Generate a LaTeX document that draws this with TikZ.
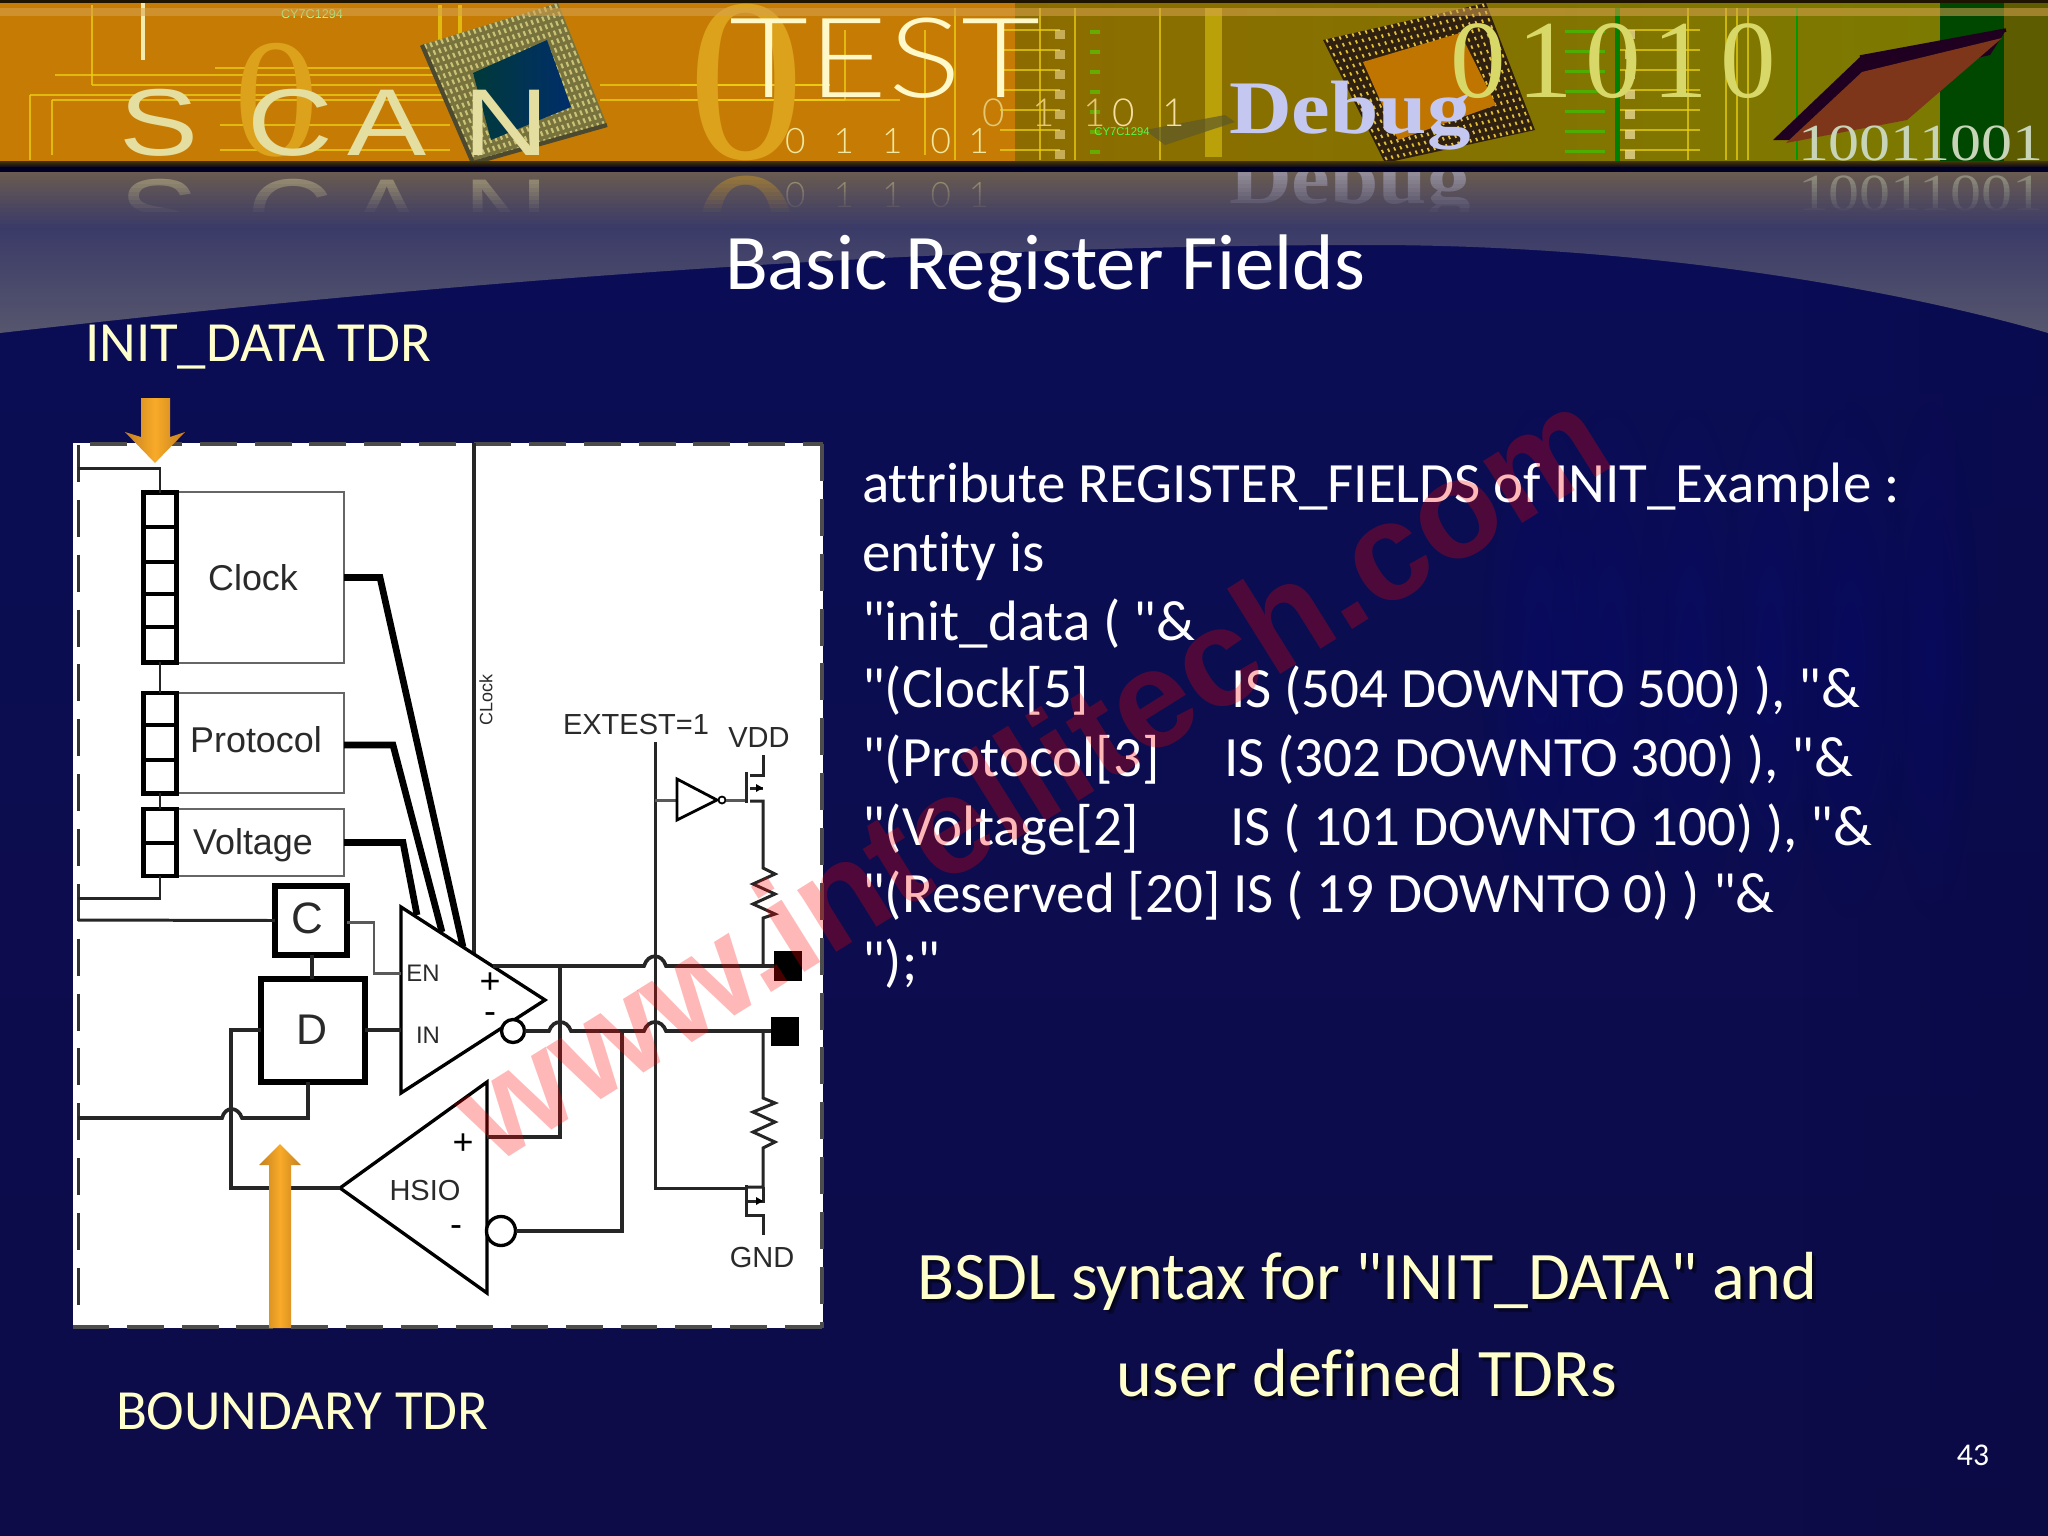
\documentclass[tikz,border=0pt]{standalone}
\usepackage{fontspec}
\usetikzlibrary{calc,fadings}
\newfontfamily\cf[Ligatures=NoCommon]{Carlito}
\newfontfamily\arialf{Liberation Sans}
\newfontfamily\timesf{Liberation Serif}
\newfontfamily\thinf{Lato Light}
\definecolor{navy}{HTML}{0A0D56}
\definecolor{navyb}{HTML}{0D0C48}
\definecolor{paleyel}{HTML}{FFFFCC}
\definecolor{gold}{HTML}{C67C04}
\definecolor{ink}{HTML}{2A2A2A}
\definecolor{bandtop}{HTML}{6A5C50}
\definecolor{bandbot}{HTML}{3A3A68}
\definecolor{grayend}{HTML}{56566E}
\definecolor{olivea}{HTML}{8C6C00}
\definecolor{oliveb}{HTML}{7C7A00}
\definecolor{arrowmid}{HTML}{F8AA28}
\definecolor{arrowedge}{HTML}{C4801E}
\definecolor{zerocol}{HTML}{DDA21C}
\definecolor{scancol}{HTML}{E4DEA0}
\definecolor{testcol}{HTML}{FFF8C8}
\definecolor{rowcol}{HTML}{F0E8A0}
\definecolor{debugcol}{HTML}{C4C8F0}
\definecolor{digcol}{HTML}{D8D868}
\definecolor{bincol}{HTML}{C8D4B8}
\newcommand{\fsz}[1]{\fontsize{#1}{#1}\selectfont}
\tikzfading[name=softblob,inner color=transparent!0,outer color=transparent!100]
\tikzset{
  x=0.01cm,y=-0.01cm,
  bt/.style={inner sep=0pt,outer sep=0pt},
  wire/.style={draw=black!85,line width=0.85pt,line join=miter},
  graywire/.style={draw=black!65,line width=0.85pt,line join=miter},
  thickwire/.style={draw=black,line width=1.9pt,line join=miter},
  fieldbox/.style={draw=black!60,line width=0.6pt,fill=white,inner sep=0pt,outer sep=0pt},
  regbox/.style={draw=black,line width=1.4pt,fill=white,inner sep=0pt,outer sep=0pt,minimum width=0.33cm},
  logicbox/.style={draw=black,line width=1.5pt,fill=white,inner sep=0pt,outer sep=0pt},
  amp/.style={draw=black,line width=0.95pt,fill=white,line join=miter},
  bubble/.style={circle,draw=black,line width=0.95pt,fill=white,inner sep=0pt,outer sep=0pt},
  padnode/.style={fill=black,inner sep=0pt,outer sep=0pt},
  lab/.style={inner sep=0pt,outer sep=0pt,text=ink,font=\arialf},
  slidetext/.style={inner sep=0pt,outer sep=0pt,anchor=base west,text=white,font=\cf\fsz{16.2}},
  headtext/.style={inner sep=0pt,outer sep=0pt,anchor=base west,text=paleyel,font=\cf\fsz{16.15}},
  bsdl/.style={inner sep=0pt,anchor=base,text=paleyel,font=\cf\fsz{19.35}},
  bsdlshadow/.style={inner sep=0pt,anchor=base,text=black,text opacity=.35,font=\cf\fsz{19.35}},
  trace/.style={draw=yellow!70!gold,line width=0.5pt,opacity=.7},
  greentrace/.style={draw=green!60!black,line width=0.6pt},
  orangearrow/.style={left color=arrowedge,right color=arrowedge,middle color=arrowmid,draw=none},
}
\begin{document}
\begin{tikzpicture}
\useasboundingbox (0,0) rectangle (2048,1536);
% --- slide ground
\shade[top color=navy,bottom color=navyb] (0,165) rectangle (2048,1536);
\foreach \cx/\wd in {1540/60,1610/60,1690/55,1770/50,1850/60,1930/50}
  \fill[blue!60!black,opacity=.2,path fading=softblob] ({\cx-\wd},400) rectangle ({\cx+\wd},920);
\fill[black!80!blue,opacity=.16,path fading=west] (1800,240) rectangle (2048,1536);
\shade[top color=bandbot,bottom color=grayend]
  (0,225) -- (2048,225) -- (2048,333) .. controls (1900,290) and (1650,245) .. (1370,245)
  .. controls (1000,245) and (550,270) .. (0,333) -- cycle;
\shade[top color=bandtop,bottom color=bandbot] (0,172) rectangle (2048,228);
% --- banner
\fill[gold] (0,0) rectangle (1015,165);
\shade[left color=olivea,right color=oliveb] (1015,0) rectangle (1940,165);
\fill[green!28!black] (1940,0) rectangle (2004,165);
\fill[oliveb!75!black] (2004,0) rectangle (2048,165);
% traces
\foreach \ya/\xa/\xb in {68/215/460,75/55/460,85/92/470,95/30/450,100/52/450,125/220/450,150/220/450,85/600/830,100/600/900,85/680/830,100/680/845} \draw[trace] (\xa,\ya) -- (\xb,\ya);
\draw[trace] (92,5) -- (92,85);
\draw[trace] (30,95) -- (30,160);
\draw[trace] (52,100) -- (52,155);
\draw[trace,line width=1pt] (440,5) -- (440,70) (460,5) -- (460,70);
\draw[trace] (845,30) -- (845,100) (925,30) -- (925,155);
\draw[draw=paleyel,line width=1.4pt,opacity=.85] (143,3) -- (143,60);
\fill[yellow!70!gold,opacity=.5] (1205,8) rectangle (1222,157);
\foreach \yy in {30,50,70,90,110,130,150} {
  \draw[trace] (1000,\yy) -- (1060,\yy);
  \draw[trace] (1620,\yy) -- (1700,\yy);
  \fill[paleyel!70!gold,opacity=.6] (1055,\yy) rectangle (1065,{\yy+9});
  \fill[paleyel!80!gold,opacity=.7] (1625,\yy) rectangle (1635,{\yy+9});
  \fill[green!55!gold,opacity=.7] (1090,\yy) rectangle (1100,{\yy+4});
  \fill[green!55!olive,opacity=.7] (1565,\yy) rectangle (1605,{\yy+3});
}
\foreach \xx in {955,1040,1075,1160,1688,1726,1737,1748} \draw[trace] (\xx,8) -- (\xx,160);
\fill[green!50!black] (1615,8) rectangle (1620,163);
\draw[greentrace] (1797,8) -- (1797,160);
\fill[black!45!olive,opacity=.7] (1145,130) -- (1225,115) -- (1235,122) -- (1165,145) -- cycle;
% chip 1
\coordinate (ca) at (422,45); \coordinate (cb) at (558,3); \coordinate (cc) at (607,125); \coordinate (cd) at (473,163);
\fill[black!30!olive!70!gray] (ca) -- (cb) -- (cc) -- (cd) -- cycle;
\begin{scope}
  \clip (ca) -- (cb) -- (cc) -- (cd) -- cycle;
  \foreach \t in {0.02,0.06,...,1.0} {
    \draw[yellow!45!gray!90!white,line width=.6pt,dash pattern=on 1.4pt off 1pt] ($(ca)!\t!(cb)$) -- ($(cd)!\t!(cc)$);
  }
\end{scope}
\shade[left color=black!55!teal,right color=teal!60!blue!60!black] (473,73) -- (547,40) -- (571,107) -- (491,140) -- cycle;
\draw[black!60!olive,line width=1.2pt] (422,45) -- (473,163) -- (607,125);
% chip 2
\coordinate (da) at (1323,40); \coordinate (db) at (1486,3); \coordinate (dc) at (1535,130); \coordinate (dd) at (1385,163);
\fill[black!75!brown] (da) -- (db) -- (dc) -- (dd) -- cycle;
\begin{scope}
  \clip (da) -- (db) -- (dc) -- (dd) -- cycle;
  \foreach \t in {0.02,0.06,...,1.0} {
    \draw[yellow!50!brown,line width=.5pt,dash pattern=on 1pt off 1.2pt] ($(da)!\t!(db)$) -- ($(dd)!\t!(dc)$);
  }
\end{scope}
\fill[orange!45!olivea] (1363,62) -- (1460,33) -- (1496,105) -- (1398,140) -- cycle;
% chip 3
\fill[black!75!violet] (1773,140) -- (1860,57) -- (2006,30) -- (1990,55) -- (1880,80) -- (1800,140) -- cycle;
\fill[brown!70!red!60!black] (1786,143) -- (1862,72) -- (2002,38) -- (1907,120) -- cycle;
\draw[black!75!violet,line width=1pt] (1860,57) -- (2006,30);
% banner texts
\node[bt,text=zerocol] (bigzero) at (747,82) {\timesf\fsz{66}0};
\node[bt,text=zerocol] (scanzero) at (277,100) {\timesf\fsz{48}0};
\node[bt,text=scancol,anchor=west,xscale=1.25] (scan) at (120,123) {\arialf\fsz{27}S\kern11.1pt C\kern3.1pt A\kern8.4pt N};
\node[bt,text=testcol,xscale=1.23] (test) at (885,58) {\thinf\fsz{31.6}TEST};
\node[bt,text=rowcol,anchor=west] (row) at (785,141) {\thinf\fsz{10}0\kern8pt 1\kern8pt 1\kern8pt 0\kern5pt 1};
\node[bt,text=rowcol!70!gold,anchor=west] (rowb) at (982,113) {\thinf\fsz{11}0\kern8pt 1\kern8pt 1};
\node[bt,text=testcol!80!gold,anchor=west] (rowc) at (1112,113) {\thinf\fsz{11}0\kern8pt 1};
\node[bt,text=debugcol,anchor=base west,xscale=1.15] (debug) at (1229,133) {\timesf\bfseries\fsz{21.5}Debug};
\node[bt,text=digcol,anchor=west] (digits) at (1450,61) {\timesf\fsz{31.6}0\kern3.4pt 1\kern3.4pt 0\kern3.4pt 1\kern3.4pt 0};
\node[bt,text=bincol,anchor=west,xscale=1.19] (binary) at (1798,143) {\timesf\fsz{14.8}10011001};
\node[bt,text=green!40!white] (partnum) at (312,14) {\arialf\fsz{3.6}CY7C1294};
\node[bt,text=green!70!white] (partnumb) at (1122,132) {\arialf\fsz{3.2}CY7C1294};
% highlight and bottom edge
\shade[top color=gold!70!white,bottom color=gold!70!white,opacity=.55] (0,8) rectangle (2048,15);
\fill[black!85!gold] (0,0) rectangle (2048,3);
\shade[top color=olivea!50!black,bottom color=black!85!blue] (0,161) rectangle (2048,168);
% reflection
\begin{scope}
\clip (0,170) rectangle (2048,225);
\begin{scope}[cm={1,0,0,-1,(0,336)}]
  \begin{scope}[every node/.append style={opacity=.45}]
    \node[bt,text=zerocol] (rbigzero) at (747,82) {\timesf\fsz{66}0};
    \node[bt,text=scancol,anchor=west,xscale=1.25] (rscan) at (120,123) {\arialf\fsz{27}S\kern11.1pt C\kern3.1pt A\kern8.4pt N};
    \node[bt,text=rowcol,anchor=west] (rrow) at (785,141) {\thinf\fsz{10}0\kern8pt 1\kern8pt 1\kern8pt 0\kern5pt 1};
    \node[bt,text=debugcol,anchor=base west,xscale=1.15] (rdebug) at (1229,133) {\timesf\bfseries\fsz{21.5}Debug};
    \node[bt,text=bincol,anchor=west,xscale=1.19] (rbinary) at (1798,143) {\timesf\fsz{14.8}10011001};
  \end{scope}
\end{scope}
\end{scope}
\foreach \k in {0,...,13} {
  \pgfmathsetmacro{\yy}{172+4*\k}
  \pgfmathsetmacro{\tt}{100*(4*\k+2)/56}
  \pgfmathsetmacro{\oo}{min(1,\k/10)}
  \fill[bandbot!\tt!bandtop,opacity=\oo] (0,\yy) rectangle (2048,\yy+4);
}
\fill[black!85!blue] (0,167) rectangle (2048,172);
% --- slide text
\node[inner sep=0pt,anchor=base,text=white,font=\cf\fsz{22.4}] (title) at (1045,289) {Basic Register Fields};
\node[headtext] (initlab) at (85,361) {INIT\_DATA TDR};
\node[headtext] (boundlab) at (116,1429) {BOUNDARY TDR};
\node[slidetext] (l1) at (862,502) {attribute REGISTER\_FIELDS of INIT\_Example :};
\node[slidetext] (l2) at (862,571) {entity is};
\node[slidetext] (l3) at (862,640) {"init\_data ( "\&};
\node[slidetext] (l4) at (862,707) {\makebox[3.69cm][l]{"(Clock[5]}IS (504 DOWNTO 500) ), "\&};
\node[slidetext] (l5) at (862,776) {\makebox[3.62cm][l]{"(Protocol[3]}IS (302 DOWNTO 300) ), "\&};
\node[slidetext] (l6) at (862,845) {\makebox[3.68cm][l]{"(Voltage[2]}IS ( 101 DOWNTO 100) ), "\&};
\node[slidetext] (l7) at (862,912) {"(Reserved [20] IS ( 19 DOWNTO 0) ) "\&};
\node[slidetext] (l8) at (862,980) {");"};
\foreach \dx/\dy in {4/4,2/2} {
  \node[bsdlshadow] at ({1367+\dx},{1299+\dy}) {BSDL syntax for "INIT\_DATA" and};
  \node[bsdlshadow] at ({1367+\dx},{1396+\dy}) {user defined TDRs};
}
\node[bsdl] (bsdl1) at (1367,1299) {BSDL syntax for "INIT\_DATA" and};
\node[bsdl] (bsdl2) at (1367,1396) {user defined TDRs};
\node[inner sep=0pt,anchor=base,text=white,font=\cf\fsz{9}] (pageno) at (1973,1465) {43};
% --- diagram panel
\fill[white] (73,443) rectangle (823,1328);
\draw[black!80,line width=1pt,dash pattern=on 10.5pt off 5.1pt] (78.5,445) -- (78.5,1320);
\draw[black!70,line width=1.2pt,dash pattern=on 10.5pt off 5.1pt] (90,444) -- (823,444) (822,444) -- (822,1328) (822,1327) -- (73,1327);
% field boxes
\node[fieldbox,minimum width=1.66cm,minimum height=1.71cm] (clockbox) at (261,577.5) {};
\node[fieldbox,minimum width=1.66cm,minimum height=1.00cm] (protobox) at (261,743) {};
\node[fieldbox,minimum width=1.66cm,minimum height=0.67cm] (voltbox) at (261,842.5) {};
\node[lab,font=\arialf\fsz{10.2}] (clocklab) at (253,578) {Clock};
\node[lab,font=\arialf\fsz{10.2}] (protolab) at (256,740) {Protocol};
\node[lab,font=\arialf\fsz{10.2}] (voltlab) at (253,845) {Voltage};
% registers
\node[regbox,minimum height=1.69cm] (regclock) at (160,577.5) {};
\node[regbox,minimum height=1.00cm] (regproto) at (160,743) {};
\node[regbox,minimum height=0.67cm] (regvolt) at (160,842.5) {};
\foreach \yy in {527,562,594,627,725,760,843} \draw[black,line width=1.4pt] (143.5,\yy) -- (176.5,\yy);
\coordinate (topleft) at (78,468); \coordinate (topcorner) at (160,468);
\draw[wire] (topleft) -- (topcorner) -- (regclock.north);
\draw[wire] (regclock.south) -- (regproto.north);
\draw[wire] (regproto.south) -- (regvolt.north);
\coordinate (loopcorner) at (160,898); \coordinate (loopleft) at (78,898);
\draw[wire] (regvolt.south) -- (loopcorner) -- (loopleft);
% logic boxes
\node[logicbox,minimum width=0.72cm,minimum height=0.69cm] (cbox) at (311,920.5) {};
\node[logicbox,minimum width=1.04cm,minimum height=1.03cm] (dbox) at (313,1030.5) {};
\node[lab,font=\arialf\fsz{12.5}] (clab) at (307,918) {C};
\node[lab,font=\arialf\fsz{12.2}] (dlab) at (312,1030) {D};
\coordinate (cleft) at (78,920);
\draw[wire] (cleft) -- (cbox.west);
\draw[wire,line width=1.1pt] (312,955) -- (312,979);
% triangles
\coordinate (ena) at (401,907); \coordinate (enb) at (545,1000); \coordinate (enc) at (401,1093);
\coordinate (hsa) at (487,1082); \coordinate (hsb) at (340,1188); \coordinate (hsc) at (487,1293);
\coordinate (clockline) at (474,443);
\draw[wire,line width=1.1pt] (clockline) -- (474,955);
% thick buses
\draw[thickwire] (clockbox.east) -- (380,577.5) -- (463,947);
\draw[thickwire] (protobox.east |- 0,745) -- (393,745) -- (442,932);
\draw[thickwire] (voltbox.east) -- (403,842.5) -- (417,915);
\draw[amp] (ena) -- (enb) -- (enc) -- cycle;
\draw[amp] (hsa) -- (hsb) -- (hsc) -- cycle;
\node[lab,font=\arialf\fsz{6.8}] (enlab) at (423,973) {EN};
\node[lab,font=\arialf\fsz{6.8}] (inlab) at (428,1035) {IN};
\node[lab,font=\arialf\fsz{10.2},text=black] (plusa) at (490,983) {+};
\node[lab,font=\arialf\fsz{10.2},text=black] (minusa) at (490,1018) {-};
\node[lab,font=\arialf\fsz{8.25}] (hsiolab) at (425,1190) {HSIO};
\node[lab,font=\arialf\fsz{10.2},text=black] (plusb) at (463,1144) {+};
\node[lab,font=\arialf\fsz{10.2},text=black] (minusb) at (456,1231) {-};
\node[lab,font=\arialf\fsz{5.1},rotate=90] (clocktxt) at (486,700) {CLock};
\node[bubble,minimum size=0.23cm] (bubblea) at (513,1031) {};
\node[bubble,minimum size=0.29cm] (bubbleb) at (501,1231) {};
% C / D connections
\coordinate (cr) at (374,922); \coordinate (crb) at (374,973); \coordinate (enpin) at (401,973);
\draw[graywire] (347,922) -- (cr) -- (crb) -- (enpin);
\draw[wire,line width=1.1pt] (365,1030) -- (401,1030);
\coordinate (dl) at (231,1030); \coordinate (dlb) at (231,1188);
\draw[wire,line width=1.05pt] (261,1030) -- (dl) -- (dlb) -- (hsb);
\coordinate (db1) at (308,1118); \coordinate (bl) at (78,1118);
\draw[wire,line width=1.05pt] (308,1082) -- (db1) -- (242,1118) .. controls (238,1106) and (225,1106) .. (222,1118) -- (bl);
% outputs
\node[padnode,minimum width=0.28cm,minimum height=0.30cm] (pada) at (788,966) {};
\node[padnode,minimum width=0.28cm,minimum height=0.29cm] (padb) at (785,1031) {};
\draw[wire,line width=1.05pt] (493,966) -- (644,966) .. controls (648,953) and (662,953) .. (666,966) -- (pada.west);
\draw[wire,line width=1.05pt] (bubblea.east) -- (549,1031) .. controls (553,1019) and (567,1019) .. (571,1031) -- (644,1031) .. controls (648,1019) and (662,1019) .. (666,1031) -- (padb.west);
\coordinate (fb) at (560,1137);
\draw[wire,line width=1.05pt] (560,966) -- (fb) -- (hsa |- fb);
\coordinate (rb) at (622,1231);
\draw[wire,line width=1.05pt] (622,1031) -- (rb) -- (bubbleb.east);
% extest
\node[lab,font=\arialf\fsz{8.25}] (extest) at (636,725) {EXTEST=1};
\node[lab,font=\arialf\fsz{8.25}] (vdd) at (759,738) {VDD};
\node[lab,font=\arialf\fsz{8.25}] (gnd) at (762,1257) {GND};
\coordinate (exttop) at (655,742); \coordinate (extbot) at (655,1188); \coordinate (ngate) at (745,1188);
\draw[wire] (exttop) -- (extbot) -- (ngate);
\draw[graywire] (655,800) -- (677,800);
\draw[amp,line width=.8pt,fill=white] (677,779) -- (717,800) -- (677,820) -- cycle;
\node[bubble,minimum size=0.07cm,line width=.5pt] (invb) at (722,800) {};
\draw[graywire] (invb.east) -- (745,800);
% pmos
\draw[wire] (746,772) -- (746,803);
\draw[wire] (750,775) -- (763,775) -- (763,755);
\draw[wire] (750,788) -- (763,788);
\fill[black] (756,784) -- (763,788) -- (756,792) -- cycle;
\draw[wire] (750,801) -- (763,801) -- (763,868) -- (775,874) -- (753,884) -- (775,894) -- (753,904) -- (775,914) -- (763,918) -- (763,966);
% nmos
\draw[wire] (763,1031) -- (763,1098) -- (775,1103) -- (753,1112) -- (775,1122) -- (753,1132) -- (775,1142) -- (763,1148) -- (763,1187) -- (748,1187);
\draw[wire] (746,1185) -- (746,1217);
\draw[wire] (748,1215) -- (763,1215) -- (763,1235);
\draw[wire] (748,1201) -- (763,1201) -- (763,1187);
\fill[black] (763,1201) -- (756,1197) -- (756,1205) -- cycle;
% orange arrows
\path[orangearrow] (141,398) -- (170,398) -- (170,437) -- (185,432) -- (155,463) -- (125,432) -- (141,437) -- cycle;
\path[orangearrow] (269,1328) -- (269,1165) -- (259,1165) -- (280,1144) -- (301,1165) -- (291,1165) -- (291,1328) -- cycle;
% watermark
\node[inner sep=0pt,rotate=32,text=red,text opacity=.28,font=\arialf\bfseries\fsz{39.4}] (mark) at (1030,773) {www.intellitech.com};
\end{tikzpicture}
\end{document}
